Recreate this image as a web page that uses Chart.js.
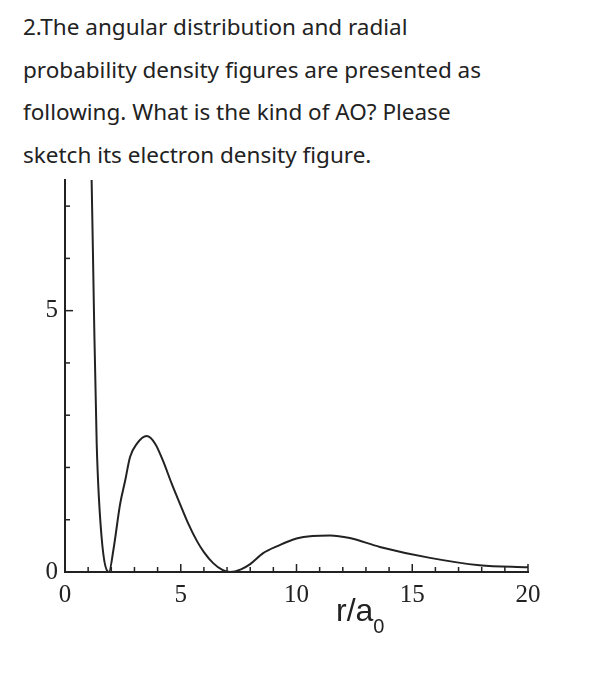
<!DOCTYPE html>
<html><head><meta charset="utf-8">
<script src="https://cdn.jsdelivr.net/npm/chart.js@4"></script>
<style>
html,body{margin:0;padding:0;background:#fff;width:590px;height:700px;overflow:hidden}
#q{position:absolute;left:23px;top:6px;width:580px;white-space:nowrap;font-family:"Noto Sans","Open Sans",sans-serif;font-size:22.5px;line-height:42.5px;color:#222}
#wrap{position:absolute;left:0;top:158px;width:590px;height:542px}
#xl{position:absolute;left:336px;top:592px;font-family:"Liberation Sans",Arial,sans-serif;font-size:32px;color:#222}
#xl sub{font-size:20px;vertical-align:-12px}
</style></head><body>
<div id="q">2.The angular distribution and radial<br>probability density figures are presented as<br>following. What is the kind of AO? Please<br>sketch its electron density figure.</div>
<div id="wrap"><canvas id="c"></canvas></div>
<div id="xl">r/a<sub>0</sub></div>
<script>
const rValues = [1.0, 1.15, 1.25, 1.37, 1.58, 1.9, 2.1, 2.38, 2.6, 2.81, 3.1, 3.53, 3.9, 4.24, 4.6, 4.97, 5.3, 5.69, 6.0, 6.4, 6.8, 7.13, 7.6, 8.0, 8.56, 9.2, 10.0, 10.7, 11.45, 12.3, 13.6, 15.77, 17.9, 20];
const densityValues = [9.5, 7.5, 5.0, 2.44, 0.67, 0.0, 0.45, 1.3, 1.75, 2.2, 2.45, 2.6, 2.45, 2.12, 1.7, 1.3, 0.95, 0.6, 0.38, 0.17, 0.04, 0.0, 0.05, 0.15, 0.36, 0.5, 0.64, 0.69, 0.70, 0.65, 0.48, 0.27, 0.13, 0.09];
const xTickLabels = [0, 5, 10, 15, 20];
const yTickLabels = [0, 5];
const ink = '#222';
const innerTicks = {
  id: 'innerTicks',
  afterDraw(ch) {
    const c = ch.ctx, x = ch.scales.x, y = ch.scales.y;
    c.save(); c.strokeStyle = ink; c.lineWidth = 1.5;
    const y0 = y.getPixelForValue(0), x0 = x.getPixelForValue(0);
    for (let v = 0; v <= 20; v++) {
      const px = x.getPixelForValue(v), L = v % 5 === 0 ? 8 : 5;
      c.beginPath(); c.moveTo(px, y0); c.lineTo(px, y0 - L); c.stroke();
    }
    for (let v = 0; v <= 7; v++) {
      const py = y.getPixelForValue(v), L = v % 5 === 0 ? 8 : 5;
      c.beginPath(); c.moveTo(x0, py); c.lineTo(x0 + L, py); c.stroke();
    }
    c.restore();
  }
};
new Chart(document.getElementById('c'), {
  type: 'line',
  data: { datasets: [{ data: rValues.map((r, i) => ({ x: r, y: densityValues[i] })),
    borderColor: ink, borderWidth: 2, pointRadius: 0, cubicInterpolationMode: 'monotone', fill: false }] },
  options: {
    responsive: true, maintainAspectRatio: false, animation: false,
    layout: { padding: { top: 8, right: 62 } },
    plugins: { legend: { display: false }, tooltip: { enabled: false } },
    scales: {
      x: { type: 'linear', min: 0, max: 20,
        afterFit(s) { s.height = 128; },
        grid: { display: false, drawTicks: false },
        border: { display: true, color: ink, width: 2 },
        ticks: { stepSize: 5, padding: 8, color: ink, font: { family: 'Liberation Serif', size: 25 },
          callback: v => xTickLabels.includes(v) ? String(v) : '' } },
      y: { type: 'linear', min: 0, max: 7.5,
        afterFit(s) { s.width = 65; },
        grid: { display: false, drawTicks: false },
        border: { display: true, color: ink, width: 2 },
        ticks: { stepSize: 1, padding: 7, color: ink, font: { family: 'Liberation Serif', size: 25 },
          callback: v => yTickLabels.includes(v) ? String(v) : '' } }
    }
  },
  plugins: [innerTicks]
});
</script>
</body></html>
